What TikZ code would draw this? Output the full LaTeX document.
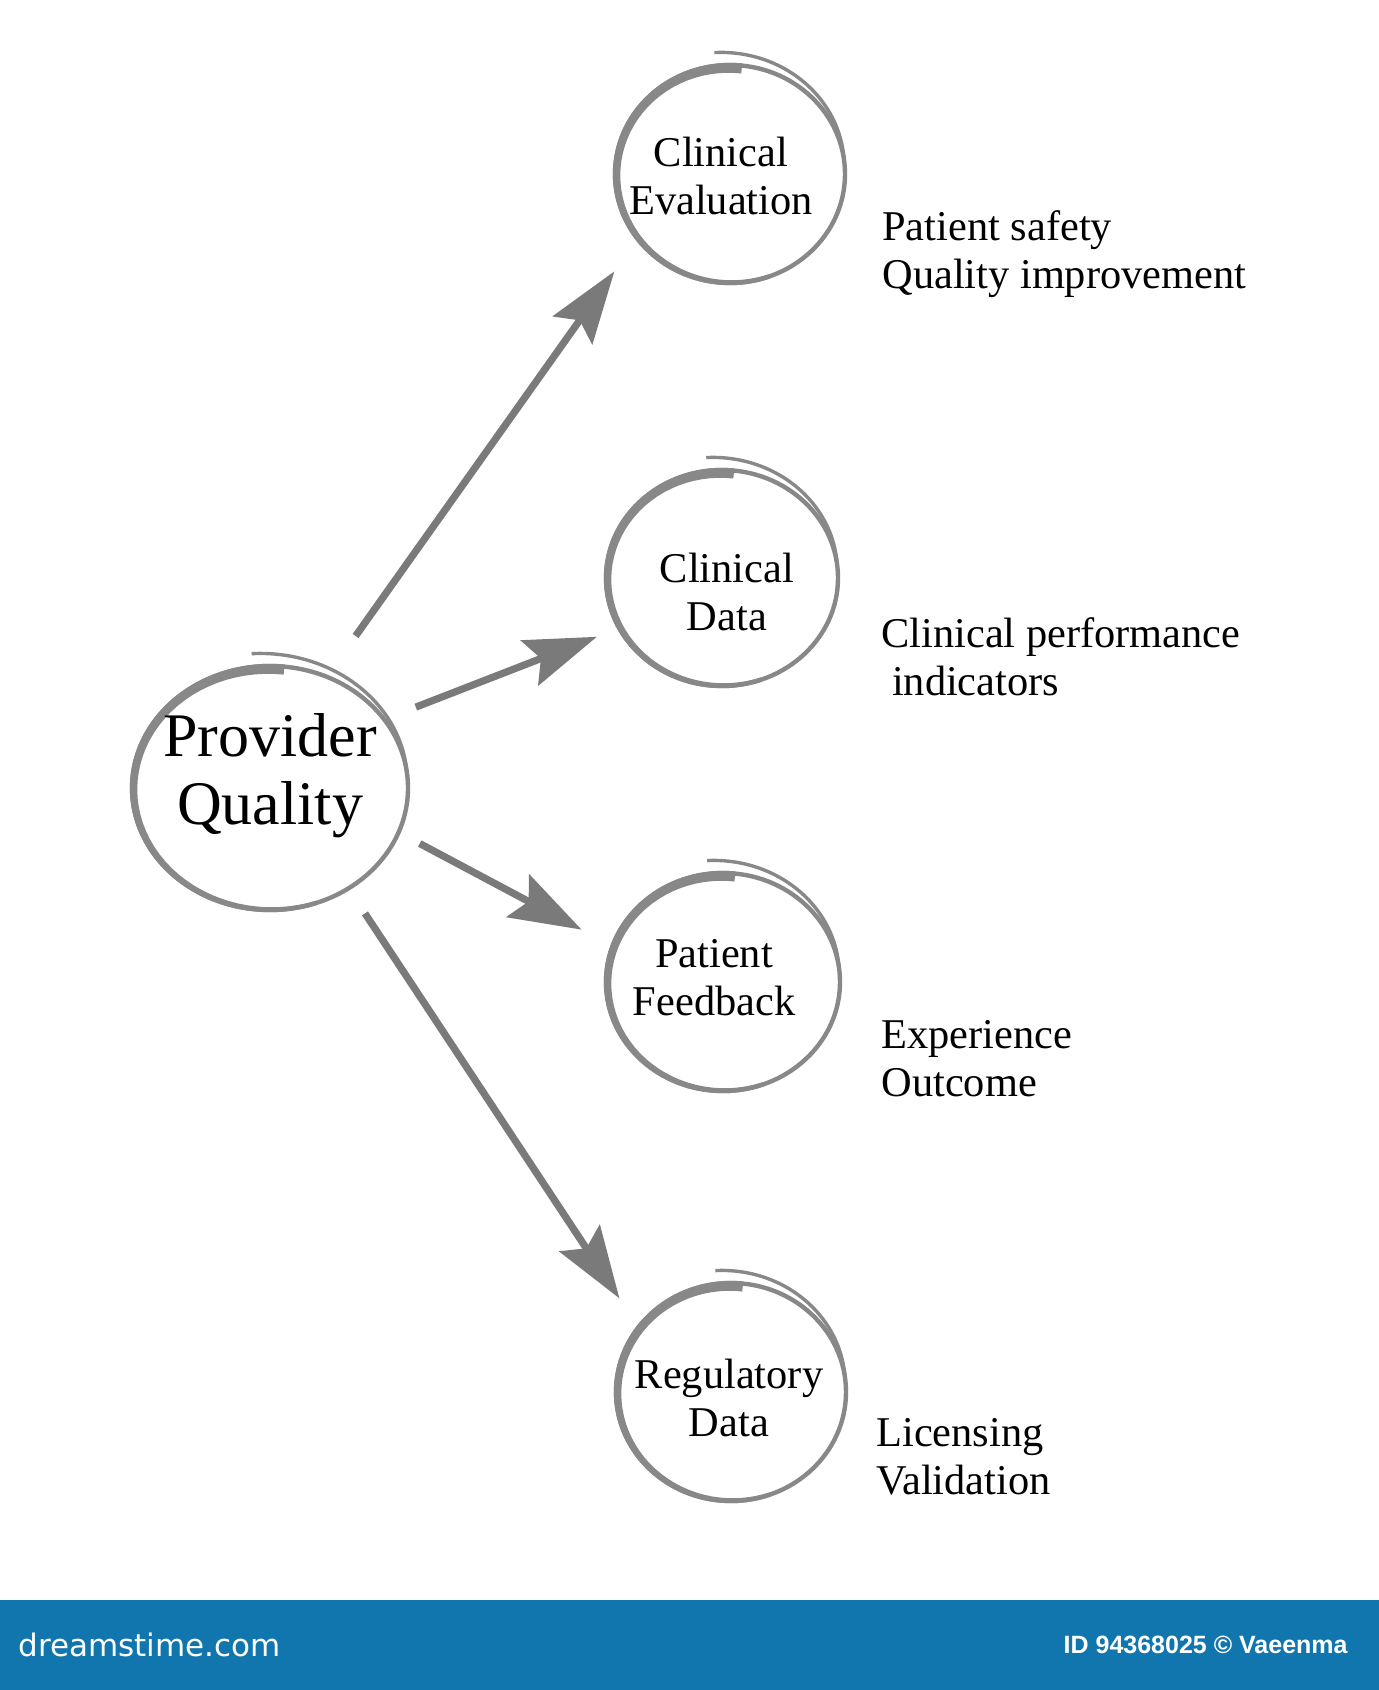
\documentclass[tikz,border=0pt]{standalone}
\usepackage{fontspec}
\setmainfont{Liberation Serif}
\newfontfamily\brandfont{DejaVu Sans}
\newfontfamily\idfont{Liberation Sans}
\usetikzlibrary{arrows.meta,shapes.geometric}
\definecolor{ring}{HTML}{888888}
\definecolor{arrw}{HTML}{7A7A7A}
\definecolor{band}{HTML}{1176AE}

\begin{document}
\begin{tikzpicture}[x=0.5pt,y=0.5pt,
    ringnode/.style={ellipse,draw=ring,line width=2.2pt,inner sep=0pt,outer sep=0pt,minimum width=115pt,minimum height=109pt},
    bignode/.style={ringnode,minimum width=138pt,minimum height=122pt},
    txt/.style={align=center,font=\fontsize{21.2}{24}\selectfont,inner sep=0pt},
    bigtxt/.style={align=center,font=\fontsize{31}{34}\selectfont,inner sep=0pt},
    side/.style={align=left,anchor=north west,font=\fontsize{21.2}{24.2}\selectfont,inner sep=0pt},
    arr/.style={-{Stealth[length=36pt,width=24pt,inset=6pt]},line width=3.6pt,arrw},
]
\fill[white] (0,0) rectangle (1379,-1690);
\useasboundingbox (0,0) rectangle (1379,-1690);

% Rings
\node[bignode] (pq) at (270,-788) {};
\node[ringnode] (ce) at (730,-174) {};
\node[ringnode,minimum width=116pt,minimum height=108pt] (cd) at (722,-578) {};
\node[ringnode,minimum width=117pt] (pf) at (723,-982) {};
\node[ringnode] (rd) at (731,-1392) {};

% tapered brush start and overlapping tail of each ring
\foreach \n/\a/\b in {pq/69/61, ce/57.5/54.5, cd/58/54, pf/58.5/54.5, rd/57.5/54.5} {
  \begin{scope}[shift={(\n.center)}]
    \fill[ring] plot[domain=84:290,samples=50] ({cos(\x)*(\a+1.1)*1pt},{sin(\x)*(\b+1.1)*1pt})
      -- plot[domain=290:84,samples=50] ({cos(\x)*(\a-1.1-(290-\x)*0.014)*1pt},{sin(\x)*(\b-1.1-(290-\x)*0.014)*1pt}) -- cycle;
    \draw[ring,line width=1.7pt] plot[domain=8:97,samples=30,smooth] ({cos(\x)*(\a+(\x-8)*0.075)*1pt},{sin(\x)*(\b+(\x-8)*0.075)*1pt});
  \end{scope}
}

% Labels
\node[bigtxt] (pqTxt) at (270,-776) {Provider\\Quality};
\node[txt] (ceTxt) at (721,-176) {Clinical\\Evaluation};
\node[txt] (cdTxt) at (727,-592) {Clinical\\Data};
\node[txt] (pfTxt) at (714,-978) {Patient\\Feedback};
\node[txt] (rdTxt) at (729,-1398) {Regulatory\\Data};

% Notes
\node[side] (ceNote) at (882,-210) {Patient safety\\Quality improvement};
\node[side] (cdNote) at (881,-617) {Clinical performance\\\ indicators};
\node[side] (pfNote) at (881,-1020) {Experience\\Outcome};
\node[side] (rdNote) at (876,-1418) {Licensing\\Validation};

% Arrows
\draw[arr,shorten <=25pt,shorten >=20pt] (pq.63) -- (ce.215);
\draw[arr,shorten <=17pt,shorten >=12pt] (pq.31) -- (cd.206);
\draw[arr,shorten <=12pt,shorten >=17.5pt] (pq.341) -- (pf.162);
\draw[arr,shorten <=15pt,shorten >=17.3pt] (pq.308) -- (rd.145);

% Credit band
\fill[band] (0,-1600) rectangle (1379,-1690);
\node[anchor=west,text=white,font=\brandfont\fontsize{15.5}{16}\selectfont,inner sep=0pt] (brand) at (18,-1645) {dreamstime.com};
\node[anchor=east,text=white,font=\idfont\bfseries\fontsize{12.5}{14}\selectfont,inner sep=0pt] (imgid) at (1348,-1645) {ID 94368025 © Vaeenma};
\end{tikzpicture}
\end{document}
